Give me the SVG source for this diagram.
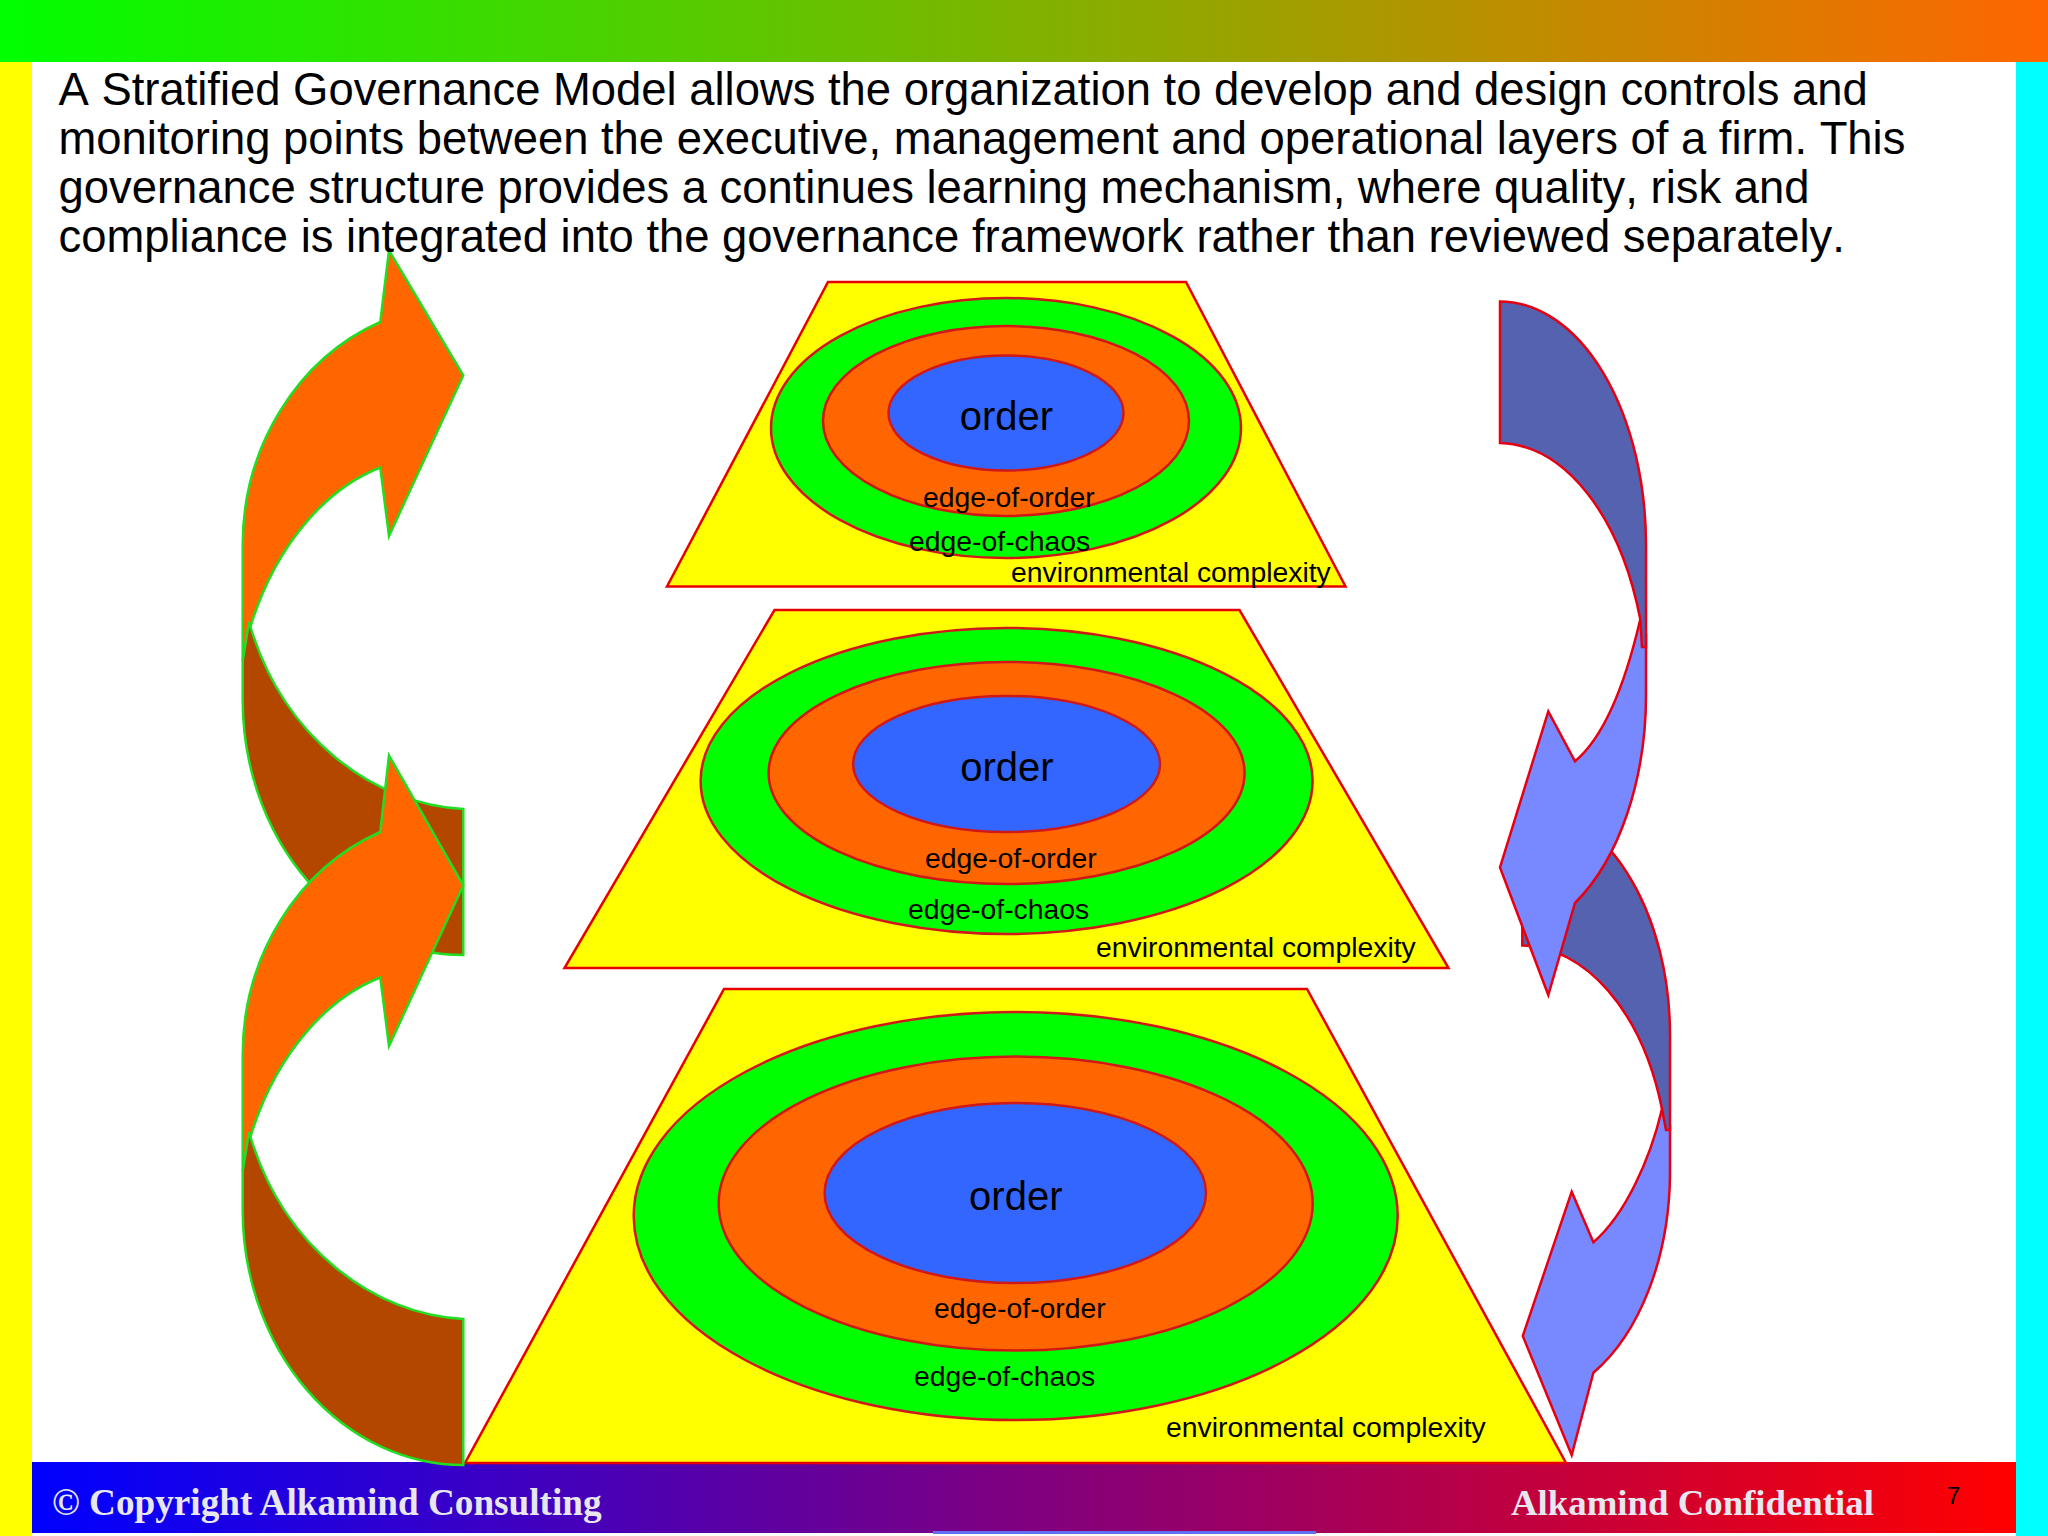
<svg xmlns="http://www.w3.org/2000/svg" width="2048" height="1536" viewBox="0 0 2048 1536">
<defs>
<linearGradient id="topG" x1="0" y1="0" x2="1" y2="0"><stop offset="0" stop-color="#00ff00"/><stop offset="1" stop-color="#ff6600"/></linearGradient>
<linearGradient id="footG" x1="0" y1="0" x2="1" y2="0"><stop offset="0" stop-color="#0000ff"/><stop offset="1" stop-color="#ff0000"/></linearGradient>
</defs>
<style>
text{font-family:"Liberation Sans",Arial,sans-serif;fill:#000}
.intro{font-size:45.4px;font-kerning:none}
.trap{fill:#ffff00;stroke:#e60000;stroke-width:2.5}
.g{fill:#00ff00;stroke:#d01818;stroke-width:2.5}
.o{fill:#ff6600;stroke:#d01818;stroke-width:2.5}
.b{fill:#3366ff;stroke:#d01818;stroke-width:2.5}
.ord{font-size:40px;text-anchor:middle}
.lab{font-size:28.35px}
.aO{fill:#ff6600;stroke:#22dd22;stroke-width:2.5}
.aB{fill:#b34700;stroke:#22dd22;stroke-width:2.5}
.aL{fill:#7888ff;stroke:#e60012;stroke-width:2.5}
.aD{fill:#5562b0;stroke:#e60012;stroke-width:2.5}
.foot{font-family:"Liberation Serif","Times New Roman",serif;font-weight:bold;fill:#e8e6ee}
</style>
<rect width="2048" height="1536" fill="#ffffff"/>
<rect id="band-left" x="0" y="61" width="32" height="1475" fill="#ffff00"/>
<rect id="band-right" x="2016" y="61" width="32" height="1475" fill="#00ffff"/>
<rect id="band-top" x="0" y="0" width="2048" height="62" fill="url(#topG)"/>
<rect id="band-foot" x="32" y="1462" width="1984" height="71" fill="url(#footG)"/>
<rect id="foot-line" x="933" y="1531" width="383" height="3" fill="#6070f0"/>

<g id="stratum-top">
<polygon class="trap" points="828,282 1186,282 1345.5,586.5 667,586.5"/>
<ellipse class="g" cx="1006" cy="428" rx="235" ry="130"/>
<ellipse class="o" cx="1006" cy="421" rx="183" ry="95"/>
<ellipse class="b" cx="1006" cy="413" rx="117.5" ry="57.5"/>
<text class="ord" x="1006.5" y="430">order</text>
<text class="lab" x="923" y="507">edge-of-order</text>
<text class="lab" x="909" y="550.5">edge-of-chaos</text>
<text class="lab" x="1011" y="582">environmental complexity</text>
</g>
<g id="stratum-middle">
<polygon class="trap" points="774.5,610 1239.5,610 1448.5,968 564.5,968"/>
<ellipse class="g" cx="1006.6" cy="781" rx="306" ry="153"/>
<ellipse class="o" cx="1006.6" cy="773" rx="238" ry="111"/>
<ellipse class="b" cx="1006.6" cy="764" rx="153.5" ry="68"/>
<text class="ord" x="1007" y="781">order</text>
<text class="lab" x="925" y="867.5">edge-of-order</text>
<text class="lab" x="908" y="918.5">edge-of-chaos</text>
<text class="lab" x="1096" y="956.5">environmental complexity</text>
</g>
<g id="stratum-bottom">
<polygon class="trap" points="724,989 1307,989 1566,1463 465,1463"/>
<ellipse class="g" cx="1015.7" cy="1216" rx="382" ry="204"/>
<ellipse class="o" cx="1015.7" cy="1203.6" rx="297" ry="147"/>
<ellipse class="b" cx="1015.3" cy="1193" rx="190.7" ry="90"/>
<text class="ord" x="1015.8" y="1209.5">order</text>
<text class="lab" x="934" y="1318">edge-of-order</text>
<text class="lab" x="914" y="1386">edge-of-chaos</text>
<text class="lab" x="1166" y="1437">environmental complexity</text>
</g>

<g id="connectors">
<g id="left-arrow-upper">
<path class="aO" d="M463.3,375.4 L389,250.4 L380.3,322 A221.3,241 0 0 0 242.7,545 L242.7,661 L250,628 C276.7,540 330,487 380.3,467.5 L389,536 Z"/>
<path class="aB" d="M249,622 C282,738 375,805 463.3,809 L463.3,955 A220.6,255 0 0 1 242.7,700 L242.7,661 Z"/>
</g>
<g id="left-arrow-lower">
<path class="aO" d="M463.3,885.4 L389,755.5 L380.3,832 A221.3,241 0 0 0 242.7,1055 L242.7,1171 L250,1138 C276.7,1050 330,997 380.3,977.5 L389,1046 Z"/>
<path class="aB" d="M249,1132 C282,1248 375,1315 463.3,1319 L463.3,1465 A220.6,255 0 0 1 242.7,1210 L242.7,1171 Z"/>
</g>
<g id="right-arrow-lower">
<path class="aL" d="M1662,1109 C1650,1160 1625,1215 1593.4,1242.3 L1571.7,1191.7 L1522.8,1336 L1571.7,1455 L1593.4,1372.7 A148,230 0 0 0 1670,1175 L1670,1125 Z"/>
<path class="aD" d="M1522.3,805 A147.7,230 0 0 1 1670,1035 L1670,1130 L1666,1130 L1662,1109 C1642,1010 1585,947 1522.3,945.5 Z"/>
</g>
<g id="right-arrow-upper">
<path class="aL" d="M1640.3,619.3 C1625,685 1603,738 1575,761.3 L1548.3,711.4 L1500,867.5 L1548.3,995 L1575,903 A146,243 0 0 0 1646,692 L1646,634 Z"/>
<path class="aD" d="M1500,301.5 A146,243.5 0 0 1 1646,545 L1646,647 L1642,647 L1640.3,619.3 C1620,515 1565,445 1500,443 Z"/>
</g>
</g>

<g id="intro-text">
<text class="intro" x="58.5" y="104.5">A Stratified Governance Model allows the organization to develop and design controls and</text>
<text class="intro" x="58.5" y="153.5">monitoring points between the executive, management and operational layers of a firm. This</text>
<text class="intro" x="58.5" y="202.5">governance structure provides a continues learning mechanism, where quality, risk and</text>
<text class="intro" x="58.5" y="251.5">compliance is integrated into the governance framework rather than reviewed separately.</text>
</g>
<g id="footer-text">
<text class="foot" x="52" y="1515" style="font-size:37.2px">© Copyright Alkamind Consulting</text>
<text class="foot" x="1511" y="1515" style="font-size:36.8px">Alkamind Confidential</text>
<text x="1947" y="1504" font-size="24">7</text>
</g>
</svg>
